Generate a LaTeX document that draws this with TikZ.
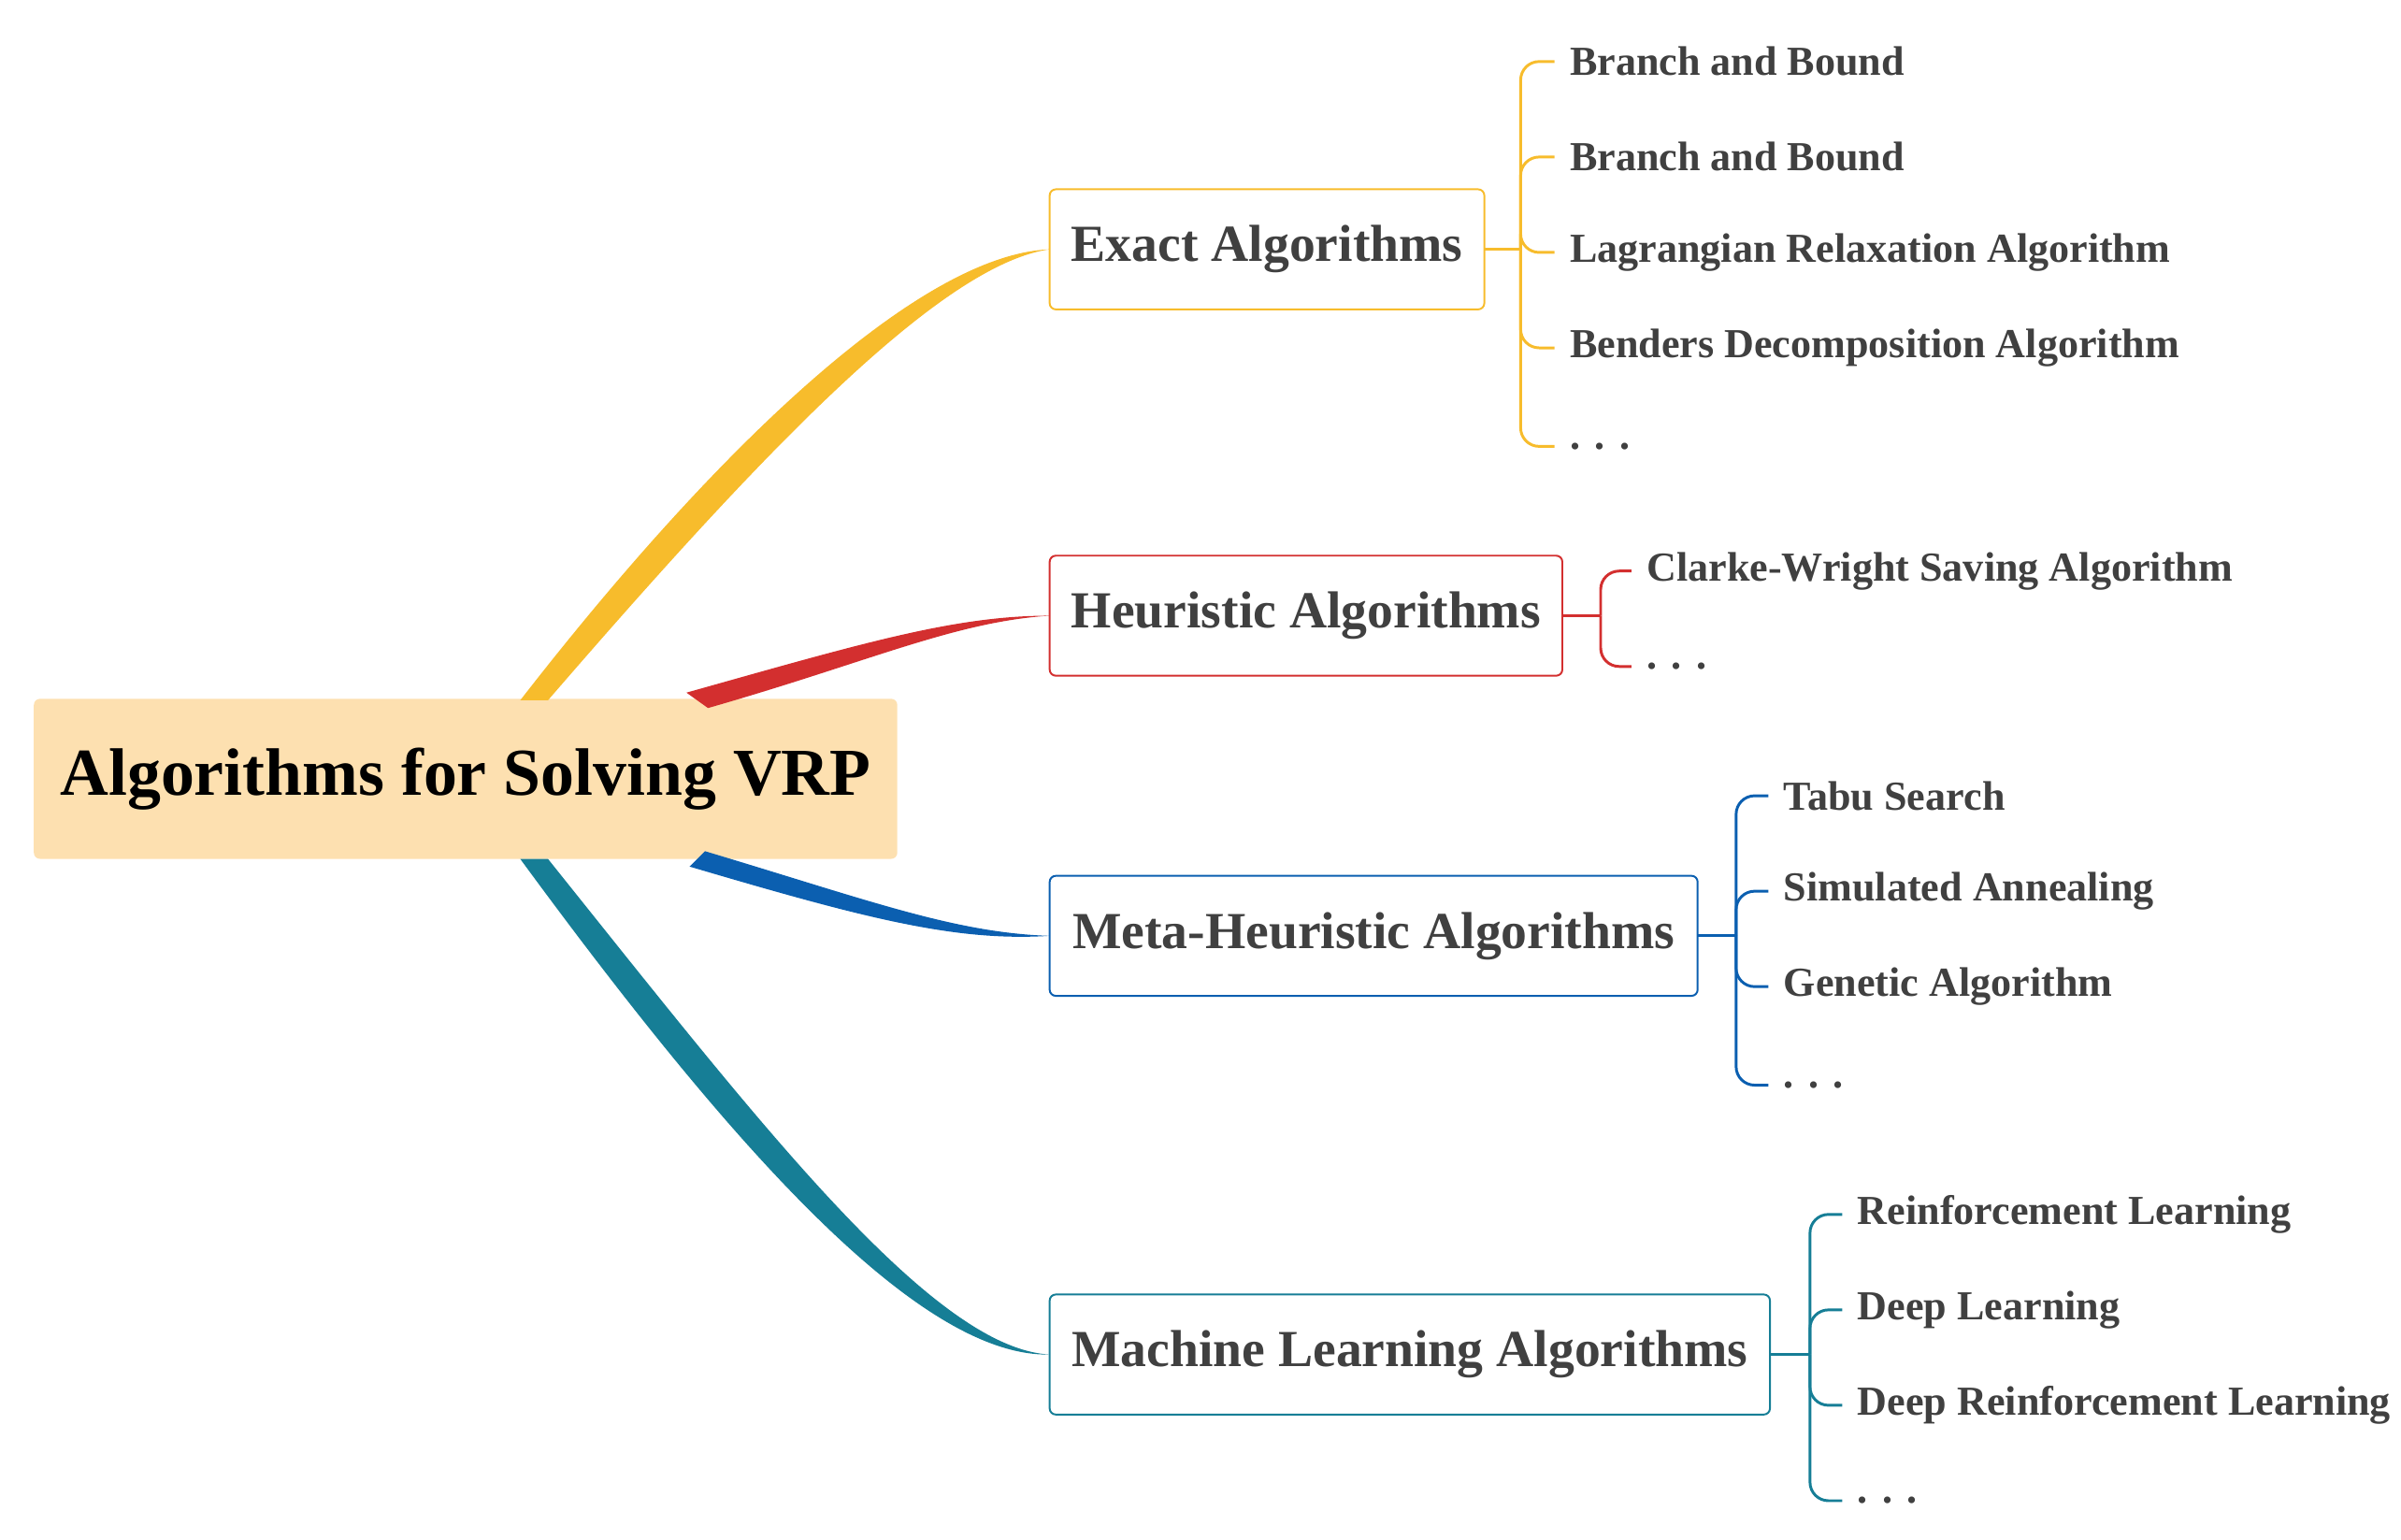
\documentclass[tikz,border=0pt]{standalone}
\usepackage{fontspec}
\setmainfont{Liberation Serif}
\definecolor{cy}{HTML}{F7BC2C}
\definecolor{cr}{HTML}{D32F2F}
\definecolor{cb}{HTML}{0B5FB0}
\definecolor{ct}{HTML}{167E96}
\definecolor{txt}{HTML}{404040}
\definecolor{rootf}{HTML}{FDE0B0}
\newcommand{\mydots}{.\hspace{0.35em}.\hspace{0.35em}.}
\tikzset{
 child/.style={draw,line width=0.6pt,rounded corners=2pt,anchor=west,outer sep=0pt,minimum height=39pt,inner xsep=7pt,font=\fontsize{16.9}{20}\selectfont\bfseries,text=txt},
 leaf/.style={anchor=west,inner sep=0pt,outer sep=0pt,font=\fontsize{13.4}{16}\selectfont\bfseries,text=txt},
 br/.style={line width=0.9pt,rounded corners=6pt}
}
\begin{document}
\begin{tikzpicture}[x=0.5pt,y=-0.5pt]
\useasboundingbox (0,0) rectangle (1560,1000);
\node[fill=rootf,rounded corners=2pt,outer sep=0pt,minimum width=280.5pt,minimum height=52pt,font=\fontsize{21.8}{26}\selectfont\bfseries] (root) at (302.5,506) {Algorithms for Solving VRP};
\node[child,draw=cy,minimum width=140.5pt] (e) at (682,162) {Exact Algorithms};
\node[child,draw=cr,minimum width=166.5pt] (h) at (682,400) {Heuristic Algorithms};
\node[child,draw=cb,minimum width=210.5pt] (m) at (682,608) {Meta-Heuristic Algorithms};
\node[child,draw=ct,minimum width=234pt] (l) at (682,880) {Machine Learning Algorithms};
% tapered connectors
\fill[cy] (338,455) .. controls (470,285) and (600,165) .. (e.west) .. controls (610,172) and (490,300) .. (356,455) -- cycle;
\fill[cr] (446,450) .. controls (560,418) and (620,400) .. (h.west) .. controls (620,404) and (565,430) .. (460,460) -- cycle;
\fill[cb] (458,553) .. controls (565,585) and (620,606) .. (m.west) .. controls (620,612) and (560,596) .. (448,563) -- cycle;
\fill[ct] (338,558) .. controls (470,738) and (595,882) .. (l.west) .. controls (605,876) and (490,725) .. (356,558) -- cycle;
% exact leaves
\foreach \t/\y [count=\i] in {Branch and Bound/40,Branch and Bound/102,Lagrangian Relaxation Algorithm/164,Benders Decomposition Algorithm/226,\mydots/290}
 \node[leaf] (e\i) at (1020,\y) {\t};
\coordinate (eh) at (988,162);
\draw[br,cy] (e.east) -- (eh);
\foreach \i in {1,...,5} \draw[br,cy] (eh) |- ([xshift=-5pt]e\i.west);
% heuristic
\foreach \t/\y [count=\i] in {Clarke-Wright Saving Algorithm/371,\mydots/433}
 \node[leaf] (h\i) at (1070,\y) {\t};
\coordinate (hh) at (1040,400);
\draw[br,cr] (h.east) -- (hh);
\foreach \i in {1,2} \draw[br,cr] (hh) |- ([xshift=-5pt]h\i.west);
% meta
\foreach \t/\y [count=\i] in {Tabu Search/517,Simulated Annealing/579,Genetic Algorithm/641,\mydots/705}
 \node[leaf] (m\i) at (1159,\y) {\t};
\coordinate (mh) at (1128,608);
\draw[br,cb] (m.east) -- (mh);
\foreach \i in {1,...,4} \draw[br,cb] (mh) |- ([xshift=-5pt]m\i.west);
% ML
\foreach \t/\y [count=\i] in {Reinforcement Learning/789,Deep Learning/851,Deep Reinforcement Learning/913,\mydots/975}
 \node[leaf] (l\i) at (1207,\y) {\t};
\coordinate (lh) at (1176,880);
\draw[br,ct] (l.east) -- (lh);
\foreach \i in {1,...,4} \draw[br,ct] (lh) |- ([xshift=-5pt]l\i.west);
\end{tikzpicture}
\end{document}
